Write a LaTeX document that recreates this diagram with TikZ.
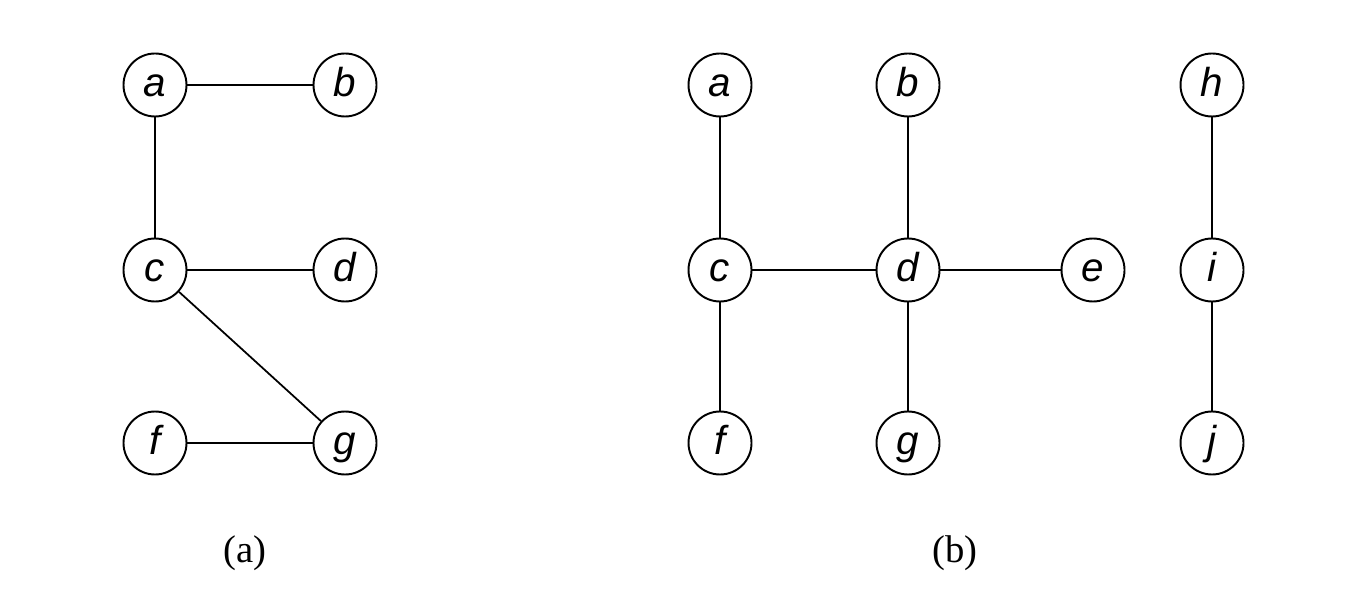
\documentclass[tikz,border=0pt]{standalone}
\usepackage{fontspec}
\setmainfont{Liberation Serif}
\setsansfont{Liberation Sans}
\usetikzlibrary{arrows.meta}

\begin{document}
\begin{tikzpicture}[vtx/.style={draw, circle, line width=1.1pt, minimum size=1.26cm, inner sep=0pt, text height=13pt, text depth=0pt, font=\fontsize{23}{27}\selectfont\sffamily\itshape}, edge/.style={line width=1pt}]
	\useasboundingbox (0,0) rectangle (27,12.24);
	% graph (a)
	\node[vtx] (a1) at (3.1,10.54) {a};
	\node[vtx] (b1) at (6.9,10.54) {b};
	\node[vtx] (c1) at (3.1,6.84) {c};
	\node[vtx] (d1) at (6.9,6.84) {d};
	\node[vtx] (f1) at (3.1,3.38) {f};
	\node[vtx] (g1) at (6.9,3.38) {g};
	\draw[edge] (a1) -- (b1);
	\draw[edge] (a1) -- (c1);
	\draw[edge] (c1) -- (d1);
	\draw[edge] (c1) -- (g1);
	\draw[edge] (f1) -- (g1);
	\node[font=\fontsize{22}{26}\selectfont] (lbla) at (4.9,1.18) {(a)};
	% graph (b)
	\node[vtx] (a2) at (14.4,10.54) {a};
	\node[vtx] (b2) at (18.16,10.54) {b};
	\node[vtx] (h2) at (24.24,10.54) {h};
	\node[vtx] (c2) at (14.4,6.84) {c};
	\node[vtx] (d2) at (18.16,6.84) {d};
	\node[vtx] (e2) at (21.86,6.84) {e};
	\node[vtx] (i2) at (24.24,6.84) {i};
	\node[vtx] (f2) at (14.4,3.38) {f};
	\node[vtx] (g2) at (18.16,3.38) {g};
	\node[vtx] (j2) at (24.24,3.38) {j};
	\draw[edge] (a2) -- (c2);
	\draw[edge] (c2) -- (f2);
	\draw[edge] (c2) -- (d2);
	\draw[edge] (b2) -- (d2);
	\draw[edge] (d2) -- (e2);
	\draw[edge] (d2) -- (g2);
	\draw[edge] (h2) -- (i2);
	\draw[edge] (i2) -- (j2);
	\node[font=\fontsize{22}{26}\selectfont] (lblb) at (19.1,1.18) {(b)};
\end{tikzpicture}
\end{document}
